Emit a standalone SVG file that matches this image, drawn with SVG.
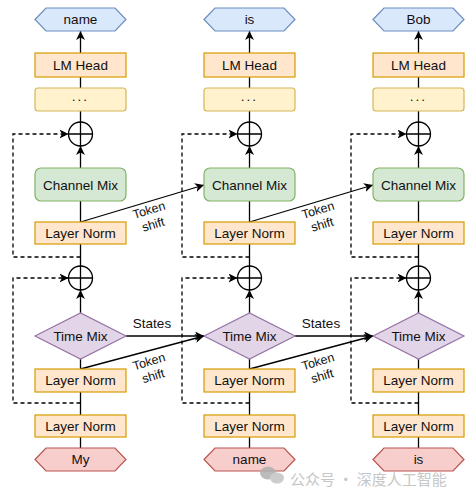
<svg xmlns="http://www.w3.org/2000/svg" width="474" height="498" viewBox="0 0 474 498">
<style>
text{font-family:"Liberation Sans",Arial,sans-serif;font-size:13.5px;fill:#111;text-anchor:middle}
.out{fill:#dae8fc;stroke:#6c8ebf;stroke-width:1.2}
.inp{fill:#f8cecc;stroke:#b85450;stroke-width:1.2}
.or{fill:#ffe6cc;stroke:#d79b00;stroke-width:1.2}
.ye{fill:#fff2cc;stroke:#d6b656;stroke-width:1.2}
.gr{fill:#d5e8d4;stroke:#82b366;stroke-width:1.2}
.pu{fill:#e1d5e7;stroke:#9673a6;stroke-width:1.2}
.plus{fill:#fff;stroke:#000;stroke-width:1.3}
.ln{fill:none;stroke:#000;stroke-width:1.3}
.dash{fill:none;stroke:#000;stroke-width:1.3;stroke-dasharray:4 3}
.ts{font-size:12.5px}
.wm{font-family:"Noto Sans CJK SC",sans-serif;font-size:15px;fill:#bdbdbd;text-anchor:start}
</style>
<defs>
<marker id="arr" markerWidth="9" markerHeight="9" refX="9" refY="4.5" orient="auto" markerUnits="userSpaceOnUse">
<path d="M0,0 L9,4.5 L0,9 L2.5,4.5 z" fill="#000"/>
</marker>
<g id="plusShape"><circle r="12" class="plus"/><path d="M-12,0 H12 M0,-12 V12" class="ln"/></g>
</defs>

<g id="connectors">
<!-- column 1 -->
<path class="ln" d="M80.5,448 V437 M80.5,415 V392 M80.5,369 V359 M80.5,266 V244 M80.5,222 V201 M80.5,122 V111 M80.5,88 V77"/>
<path class="ln" d="M80.5,313 V290" marker-end="url(#arr)"/>
<path class="ln" d="M80.5,168 V146" marker-end="url(#arr)"/>
<path class="ln" d="M80.5,53 V31" marker-end="url(#arr)"/>
<path class="dash" d="M80.5,403 H13 V278 H68.5" marker-end="url(#arr)"/>
<path class="dash" d="M80.5,257 H13 V134 H68.5" marker-end="url(#arr)"/>
<path class="ln" d="M126,336 H204" marker-end="url(#arr)"/>
<path class="ln" d="M80.5,222 L204,185" marker-end="url(#arr)"/>
<path class="ln" d="M80.5,369 L204,336" marker-end="url(#arr)"/>
<!-- column 2 -->
<path class="ln" d="M249.5,448 V437 M249.5,415 V392 M249.5,369 V359 M249.5,266 V244 M249.5,222 V201 M249.5,122 V111 M249.5,88 V77"/>
<path class="ln" d="M249.5,313 V290" marker-end="url(#arr)"/>
<path class="ln" d="M249.5,168 V146" marker-end="url(#arr)"/>
<path class="ln" d="M249.5,53 V31" marker-end="url(#arr)"/>
<path class="dash" d="M249.5,403 H182 V278 H237.5" marker-end="url(#arr)"/>
<path class="dash" d="M249.5,257 H182 V134 H237.5" marker-end="url(#arr)"/>
<path class="ln" d="M295,336 H373" marker-end="url(#arr)"/>
<path class="ln" d="M249.5,222 L373,185" marker-end="url(#arr)"/>
<path class="ln" d="M249.5,369 L373,336" marker-end="url(#arr)"/>
<!-- column 3 -->
<path class="ln" d="M418.5,448 V437 M418.5,415 V392 M418.5,369 V359 M418.5,266 V244 M418.5,222 V201 M418.5,122 V111 M418.5,88 V77"/>
<path class="ln" d="M418.5,313 V290" marker-end="url(#arr)"/>
<path class="ln" d="M418.5,168 V146" marker-end="url(#arr)"/>
<path class="ln" d="M418.5,53 V31" marker-end="url(#arr)"/>
<path class="dash" d="M418.5,403 H351 V278 H406.5" marker-end="url(#arr)"/>
<path class="dash" d="M418.5,257 H351 V134 H406.5" marker-end="url(#arr)"/>
<!-- edge labels -->
<text x="152" y="328">States</text>
<text x="321" y="328">States</text>
<g transform="translate(151,217) rotate(-16.6)"><text class="ts" y="-3">Token</text><text class="ts" y="12">shift</text></g>
<g transform="translate(320,217) rotate(-16.6)"><text class="ts" y="-3">Token</text><text class="ts" y="12">shift</text></g>
<g transform="translate(151,368.5) rotate(-16.6)"><text class="ts" y="-3">Token</text><text class="ts" y="12">shift</text></g>
<g transform="translate(320,368.5) rotate(-16.6)"><text class="ts" y="-3">Token</text><text class="ts" y="12">shift</text></g>
</g>

<!-- column 1 nodes -->
<g id="out1"><polygon class="out" points="35,19.5 46,8 115,8 126,19.5 115,31 46,31"/><text x="80.5" y="24">name</text></g>
<g id="lmhead1"><rect class="or" x="35" y="53" width="91" height="24"/><text x="80.5" y="69.5">LM Head</text></g>
<g id="dots1"><rect class="ye" x="35" y="88" width="91" height="23" rx="3"/><text x="80.5" y="101" letter-spacing="2">...</text></g>
<g id="plus1a"><use href="#plusShape" x="80.5" y="134"/></g>
<g id="cmix1"><rect class="gr" x="35" y="168" width="91" height="33" rx="6"/><text x="80.5" y="189.5">Channel Mix</text></g>
<g id="ln1a"><rect class="or" x="35" y="222" width="91" height="22"/><text x="80.5" y="237.5">Layer Norm</text></g>
<g id="plus1b"><use href="#plusShape" x="80.5" y="278"/></g>
<g id="tmix1"><polygon class="pu" points="35,336 80.5,313 126,336 80.5,359"/><text x="80.5" y="341">Time Mix</text></g>
<g id="ln1b"><rect class="or" x="35" y="369" width="91" height="23"/><text x="80.5" y="385">Layer Norm</text></g>
<g id="ln1c"><rect class="or" x="35" y="415" width="91" height="22"/><text x="80.5" y="430.5">Layer Norm</text></g>
<g id="in1"><polygon class="inp" points="35,459.5 46,448 115,448 126,459.5 115,471 46,471"/><text x="80.5" y="464">My</text></g>

<!-- column 2 nodes -->
<g id="out2"><polygon class="out" points="204,19.5 215,8 284,8 295,19.5 284,31 215,31"/><text x="249.5" y="24">is</text></g>
<g id="lmhead2"><rect class="or" x="204" y="53" width="91" height="24"/><text x="249.5" y="69.5">LM Head</text></g>
<g id="dots2"><rect class="ye" x="204" y="88" width="91" height="23" rx="3"/><text x="249.5" y="101" letter-spacing="2">...</text></g>
<g id="plus2a"><use href="#plusShape" x="249.5" y="134"/></g>
<g id="cmix2"><rect class="gr" x="204" y="168" width="91" height="33" rx="6"/><text x="249.5" y="189.5">Channel Mix</text></g>
<g id="ln2a"><rect class="or" x="204" y="222" width="91" height="22"/><text x="249.5" y="237.5">Layer Norm</text></g>
<g id="plus2b"><use href="#plusShape" x="249.5" y="278"/></g>
<g id="tmix2"><polygon class="pu" points="204,336 249.5,313 295,336 249.5,359"/><text x="249.5" y="341">Time Mix</text></g>
<g id="ln2b"><rect class="or" x="204" y="369" width="91" height="23"/><text x="249.5" y="385">Layer Norm</text></g>
<g id="ln2c"><rect class="or" x="204" y="415" width="91" height="22"/><text x="249.5" y="430.5">Layer Norm</text></g>
<g id="in2"><polygon class="inp" points="204,459.5 215,448 284,448 295,459.5 284,471 215,471"/><text x="249.5" y="464">name</text></g>

<!-- column 3 nodes -->
<g id="out3"><polygon class="out" points="373,19.5 384,8 453,8 464,19.5 453,31 384,31"/><text x="418.5" y="24">Bob</text></g>
<g id="lmhead3"><rect class="or" x="373" y="53" width="91" height="24"/><text x="418.5" y="69.5">LM Head</text></g>
<g id="dots3"><rect class="ye" x="373" y="88" width="91" height="23" rx="3"/><text x="418.5" y="101" letter-spacing="2">...</text></g>
<g id="plus3a"><use href="#plusShape" x="418.5" y="134"/></g>
<g id="cmix3"><rect class="gr" x="373" y="168" width="91" height="33" rx="6"/><text x="418.5" y="189.5">Channel Mix</text></g>
<g id="ln3a"><rect class="or" x="373" y="222" width="91" height="22"/><text x="418.5" y="237.5">Layer Norm</text></g>
<g id="plus3b"><use href="#plusShape" x="418.5" y="278"/></g>
<g id="tmix3"><polygon class="pu" points="373,336 418.5,313 464,336 418.5,359"/><text x="418.5" y="341">Time Mix</text></g>
<g id="ln3b"><rect class="or" x="373" y="369" width="91" height="23"/><text x="418.5" y="385">Layer Norm</text></g>
<g id="ln3c"><rect class="or" x="373" y="415" width="91" height="22"/><text x="418.5" y="430.5">Layer Norm</text></g>
<g id="in3"><polygon class="inp" points="373,459.5 384,448 453,448 464,459.5 453,471 384,471"/><text x="418.5" y="463.5">is</text></g>

<!-- watermark -->
<g id="watermark" opacity="0.85">
<ellipse cx="268" cy="473" rx="8" ry="6.5" fill="#b0b0b0"/>
<ellipse cx="277" cy="478" rx="7" ry="5.5" fill="#c4c4c4"/>
<text class="wm" x="290" y="485">公众号 · 深度人工智能</text>
</g>
</svg>
